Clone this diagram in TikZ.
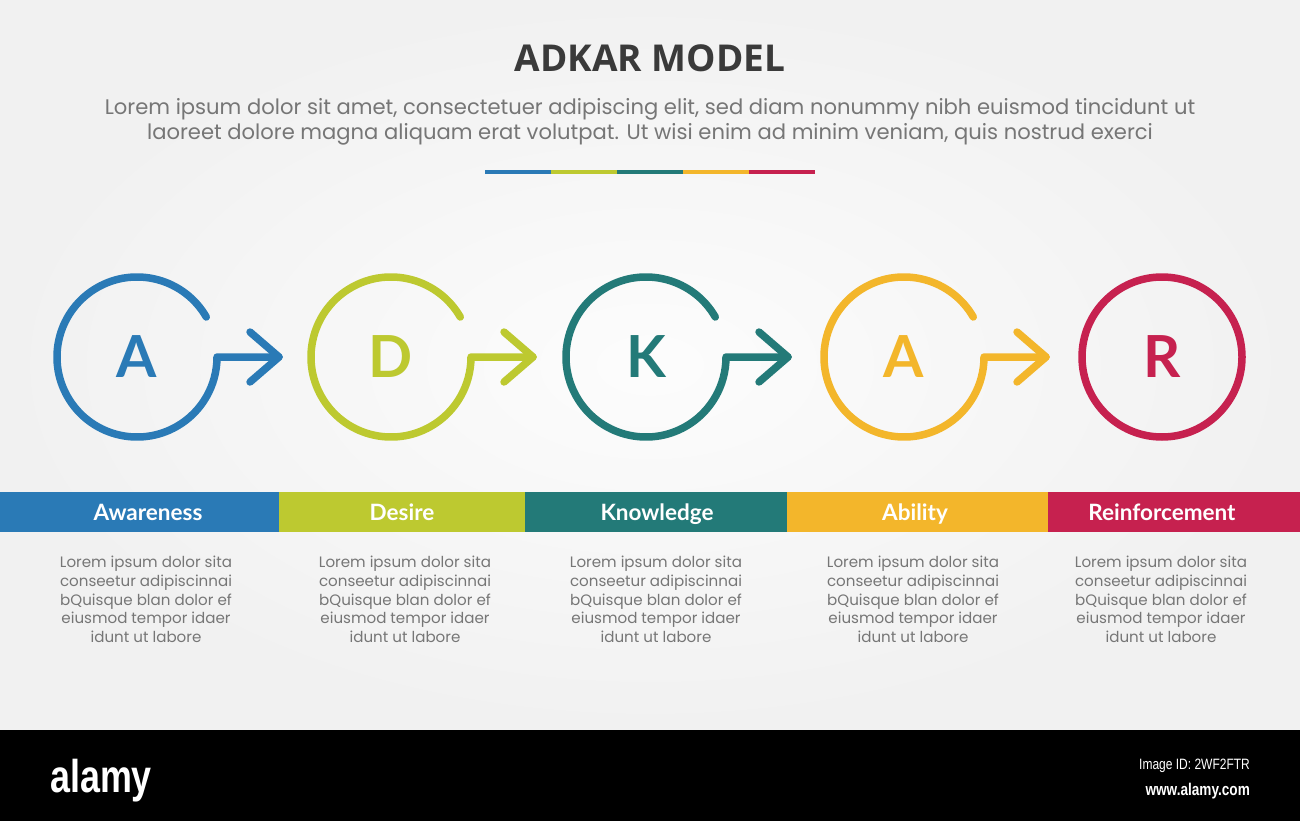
\documentclass[tikz,border=0pt]{standalone}
\usepackage{fontspec}
\usepackage{xcolor}
\newfontfamily\titlefont{Open Sans}
\newfontfamily\labelfont{Lato}
\newfontfamily\bodyfont{Poppins}
\newfontfamily\markfont{Liberation Sans}
\definecolor{awblue}{HTML}{2A7AB6}
\definecolor{delime}{HTML}{BDC930}
\definecolor{knteal}{HTML}{237A78}
\definecolor{aborange}{HTML}{F3B62B}
\definecolor{rered}{HTML}{C6214F}
\definecolor{bodygray}{HTML}{767676}
\definecolor{titlegray}{HTML}{3A3A3A}
\tikzset{
  ring/.style={line width=7.5pt,line cap=round,line join=round},
  letter/.style={inner sep=0,font=\labelfont\bfseries\fontsize{58}{58}\selectfont},
  stagename/.style={anchor=base,inner sep=0,text=white,font=\labelfont\bfseries\fontsize{22.5}{26}\selectfont},
  stagetext/.style={anchor=north,inner sep=0,align=center,text=bodygray,font=\bodyfont\fontsize{15.1}{18.75}\selectfont},
}
\begin{document}
\begin{tikzpicture}[x=1pt,y=-1pt]
\useasboundingbox (0,0) rectangle (1300,821);
\shade[inner color=white!98!gray,outer color=white!89!gray] (0,0) rectangle (1300,730);
\fill[black] (0,730) rectangle (1300,821);

\node[anchor=base,inner sep=0,text=titlegray,font=\titlefont\bfseries\fontsize{37}{40}\selectfont] (title) at (650,72) {ADKAR MODEL};
\node[anchor=base,inner sep=0,text=bodygray,font=\bodyfont\fontsize{21.1}{25}\selectfont] (sub1) at (650,115) {Lorem ipsum dolor sit amet, consectetuer adipiscing elit, sed diam nonummy nibh euismod tincidunt ut};
\node[anchor=base,inner sep=0,text=bodygray,font=\bodyfont\fontsize{21.1}{25}\selectfont] (sub2) at (650,140) {laoreet dolore magna aliquam erat volutpat. Ut wisi enim ad minim veniam, quis nostrud exerci};
\draw[awblue,line width=4pt] (485,172) -- (551,172);
\draw[delime,line width=4pt] (551,172) -- (617,172);
\draw[knteal,line width=4pt] (617,172) -- (683,172);
\draw[aborange,line width=4pt] (683,172) -- (749,172);
\draw[rered,line width=4pt] (749,172) -- (815,172);

\node[letter,text=awblue] (ltrA) at (137,357) {A};
\draw[ring,awblue] ([shift={(-30:80)}]ltrA.center) arc[start angle=-30,end angle=-360,radius=80] -- ++(62,0) coordinate (tipA);
\draw[ring,awblue] ([shift={(-29,-25)}]tipA) -- (tipA) -- ([shift={(-29,25)}]tipA);

\node[letter,text=delime] (ltrD) at (391,357) {D};
\draw[ring,delime] ([shift={(-30:80)}]ltrD.center) arc[start angle=-30,end angle=-360,radius=80] -- ++(62,0) coordinate (tipD);
\draw[ring,delime] ([shift={(-29,-25)}]tipD) -- (tipD) -- ([shift={(-29,25)}]tipD);

\node[letter,text=knteal] (ltrK) at (646,357) {K};
\draw[ring,knteal] ([shift={(-30:80)}]ltrK.center) arc[start angle=-30,end angle=-360,radius=80] -- ++(62,0) coordinate (tipK);
\draw[ring,knteal] ([shift={(-29,-25)}]tipK) -- (tipK) -- ([shift={(-29,25)}]tipK);

\node[letter,text=aborange] (ltrAb) at (904,357) {A};
\draw[ring,aborange] ([shift={(-30:80)}]ltrAb.center) arc[start angle=-30,end angle=-360,radius=80] -- ++(62,0) coordinate (tipAb);
\draw[ring,aborange] ([shift={(-29,-25)}]tipAb) -- (tipAb) -- ([shift={(-29,25)}]tipAb);

\node[letter,text=rered] (ltrR) at (1162,357) {R};
\draw[ring,rered] (ltrR.center) circle[radius=80];

\fill[awblue] (0,492) rectangle (279,532);
\fill[delime] (279,492) rectangle (525,532);
\fill[knteal] (525,492) rectangle (787,532);
\fill[aborange] (787,492) rectangle (1048,532);
\fill[rered] (1048,492) rectangle (1300,532);
\node[stagename] (nameA) at (148,520) {Awareness};
\node[stagename] (nameD) at (402,520) {Desire};
\node[stagename] (nameK) at (657,520) {Knowledge};
\node[stagename] (nameAb) at (915,520) {Ability};
\node[stagename] (nameR) at (1162,520) {Reinforcement};

\node[stagetext] (textA) at (146,556) {Lorem ipsum dolor sita\\conseetur adipiscinnai\\bQuisque blan dolor ef\\eiusmod tempor idaer\\idunt ut labore};
\node[stagetext] (textD) at (405,556) {Lorem ipsum dolor sita\\conseetur adipiscinnai\\bQuisque blan dolor ef\\eiusmod tempor idaer\\idunt ut labore};
\node[stagetext] (textK) at (656,556) {Lorem ipsum dolor sita\\conseetur adipiscinnai\\bQuisque blan dolor ef\\eiusmod tempor idaer\\idunt ut labore};
\node[stagetext] (textAb) at (913,556) {Lorem ipsum dolor sita\\conseetur adipiscinnai\\bQuisque blan dolor ef\\eiusmod tempor idaer\\idunt ut labore};
\node[stagetext] (textR) at (1161,556) {Lorem ipsum dolor sita\\conseetur adipiscinnai\\bQuisque blan dolor ef\\eiusmod tempor idaer\\idunt ut labore};

\node[anchor=base west,inner sep=0,text=white,font=\markfont\bfseries\fontsize{46}{46}\selectfont,xscale=0.78] (logo) at (50,792) {alamy};
\node[anchor=base east,inner sep=0,text=white,font=\markfont\fontsize{15}{15}\selectfont,xscale=0.8] (imgid) at (1250,769) {Image ID: 2WF2FTR};
\node[anchor=base east,inner sep=0,text=white,font=\markfont\bfseries\fontsize{17}{17}\selectfont,xscale=0.8] (site) at (1250,795) {www.alamy.com};
\end{tikzpicture}
\end{document}
